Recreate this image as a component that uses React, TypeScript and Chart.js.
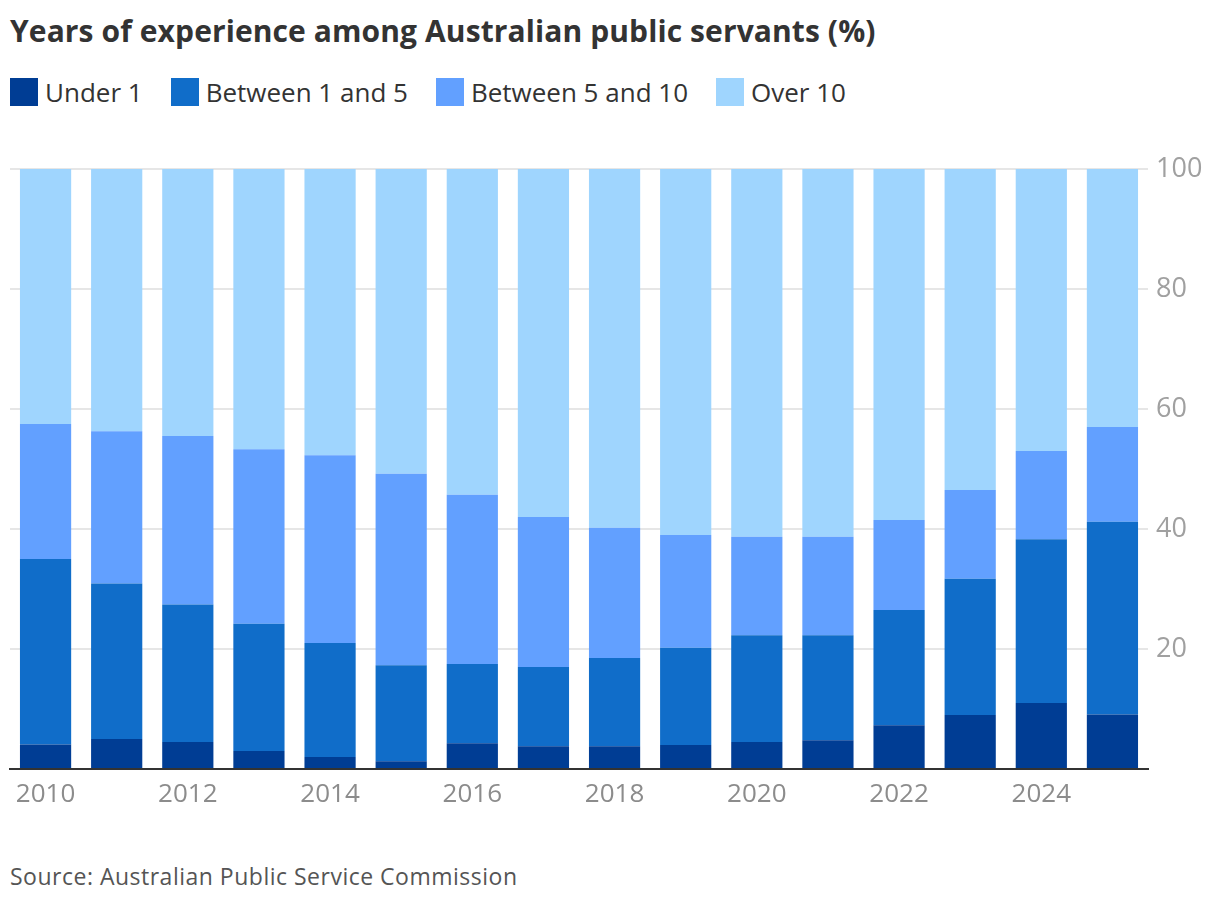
import React, { useEffect, useRef } from "react";
import { Chart, registerables } from "chart.js";

Chart.register(...registerables);

const years = ["2010","2011","2012","2013","2014","2015","2016","2017","2018","2019","2020","2021","2022","2023","2024","2025"];
const under1 = [4.1, 5.0, 4.5, 3.0, 2.0, 1.3, 4.3, 3.8, 3.8, 4.0, 4.5, 4.8, 7.3, 9.0, 11.0, 9.1];
const between1and5 = [30.9, 25.9, 22.9, 21.2, 19.0, 16.0, 13.2, 13.2, 14.7, 16.2, 17.8, 17.5, 19.2, 22.7, 27.3, 32.1];
const between5and10 = [22.5, 25.4, 28.1, 29.1, 31.3, 31.9, 28.2, 25.0, 21.7, 18.8, 16.4, 16.4, 15.0, 14.8, 14.7, 15.8];
const over10 = [42.5, 43.7, 44.5, 46.7, 47.7, 50.8, 54.3, 58.0, 59.8, 61.0, 61.3, 61.3, 58.5, 53.5, 47.0, 43.0];
const yTicks = [0, 20, 40, 60, 80, 100];

const seriesNames = ["Under 1", "Between 1 and 5", "Between 5 and 10", "Over 10"];
const seriesColors = ["#003d94", "#106dc9", "#62a0ff", "#9fd5fe"];
const seriesData = [under1, between1and5, between5and10, over10];

const FONT = "'Open Sans', Roboto, sans-serif";

export default function App() {
  const ref = useRef<HTMLCanvasElement | null>(null);

  useEffect(() => {
    if (!ref.current) return;
    const chart = new Chart(ref.current, {
      type: "bar",
      data: {
        labels: years,
        datasets: seriesNames.map((n, i) => ({
          label: n,
          data: seriesData[i],
          backgroundColor: seriesColors[i],
          borderWidth: 0,
          barPercentage: 0.72,
          categoryPercentage: 1,
        })),
      },
      options: {
        animation: false,
        responsive: false,
        maintainAspectRatio: false,
        layout: { padding: { left: 10, right: 0, top: 29, bottom: 0 } },
        plugins: { legend: { display: false }, tooltip: { enabled: false }, title: { display: false } },
        scales: {
          x: {
            stacked: true,
            grid: { display: false, drawTicks: false },
            border: { display: true, color: "#333333", width: 2 },
            ticks: {
              autoSkip: false,
              maxRotation: 0,
              padding: 10,
              color: "#8c8c8c",
              font: { family: FONT, size: 26 },
              callback: (_v: any, i: number) => (i % 2 === 0 ? years[i] : ""),
            },
            afterFit: (s: any) => { s.height = 60; },
          },
          y: {
            stacked: true,
            position: "right",
            min: 0,
            max: 100,
            afterBuildTicks: (s: any) => { s.ticks = yTicks.map((v) => ({ value: v })); },
            grid: { color: "#e6e6e6", lineWidth: 2, drawTicks: false },
            border: { display: false },
            ticks: {
              padding: 8,
              color: "#a0a0a0",
              font: { family: FONT, size: 27 },
              callback: (v: any) => (v === 0 ? "" : String(v)),
            },
            afterFit: (s: any) => { s.width = 72; },
          },
        },
      },
    });
    return () => chart.destroy();
  }, []);

  return (
    <div style={{ position: "absolute", left: 0, top: 0, width: 1220, height: 906, background: "#fff", fontFamily: FONT }}>
      <div style={{ position: "absolute", left: 10, top: 11, fontSize: 30, fontWeight: 700, color: "#333333", whiteSpace: "nowrap", lineHeight: "40px", letterSpacing: "0.1px" }}>
        Years of experience among Australian public servants (%)
      </div>
      <div style={{ position: "absolute", left: 10, top: 78, display: "flex", alignItems: "center", height: 28 }}>
        {seriesNames.map((n, i) => (
          <div key={n} style={{ display: "flex", alignItems: "center", marginRight: 28 }}>
            <span style={{ display: "inline-block", width: 28, height: 28, background: seriesColors[i], marginRight: 7 }} />
            <span style={{ fontSize: 26, color: "#333333", whiteSpace: "nowrap" }}>{n}</span>
          </div>
        ))}
      </div>
      <canvas ref={ref} width={1220} height={689} style={{ position: "absolute", left: 0, top: 140, width: 1220, height: 689 }} />
      <div style={{ position: "absolute", left: 10, top: 861, fontSize: 23, color: "#555555", whiteSpace: "nowrap", lineHeight: "30px", letterSpacing: "0.5px" }}>
        Source: Australian Public Service Commission
      </div>
    </div>
  );
}
